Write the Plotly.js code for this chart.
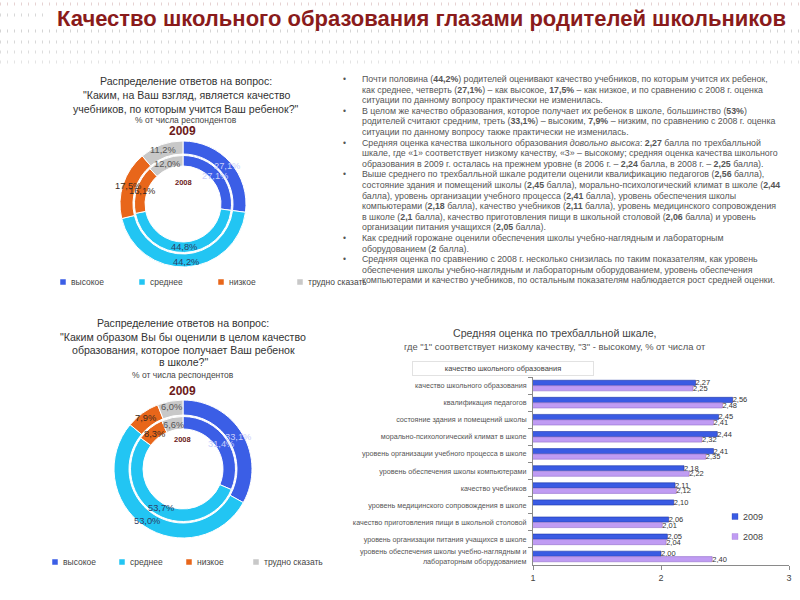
<!DOCTYPE html>
<html><head><meta charset="utf-8">
<script src="https://cdn.plot.ly/plotly-3.0.1.min.js"></script>
<style>html,body{margin:0;padding:0;background:#fff}#chart{width:800px;height:600px}</style>
</head><body><div id="chart"></div>
<script>
// ---------- data ----------
const answerLabels = ['высокое', 'среднее', 'низкое', 'трудно сказать'];
const booksShare2009 = [27.1, 44.2, 17.5, 11.2];
const booksShare2008 = [27.1, 44.8, 16.1, 12.0];
const eduShare2009 = [33.1, 53.0, 7.9, 6.0];
const eduShare2008 = [31.4, 53.7, 8.3, 6.6];

const indicatorLabels = [
  'качество школьного образования',
  'квалификация педагогов',
  'состояние здания и помещений школы',
  'морально-психологический климат в школе',
  'уровень организации учебного процесса в школе',
  'уровень обеспечения школы компьютерами',
  'качество учебников',
  'уровень медицинского сопровождения в школе',
  'качество приготовления пищи в школьной столовой',
  'уровень организации питания учащихся в школе',
  'уровень обеспечения школы учебно-наглядным и<br>лабораторным оборудованием'
];
const score2009 = [2.27, 2.56, 2.45, 2.44, 2.41, 2.18, 2.11, 2.10, 2.06, 2.05, 2.00];
const score2008 = [2.25, 2.48, 2.41, 2.32, 2.35, 2.22, 2.12, null, 2.01, 2.04, 2.40];
const scoreTicks = [1, 2, 3];
const yearLabels = ['2009', '2008'];

// ---------- helpers ----------
const W = 800, H = 600;
const px = v => v / W;
const py = v => 1 - v / H;
const comma = (v, d) => v.toFixed(d).replace('.', ',');
const sliceColors = ['#3B5EE6', '#22C5F3', '#E8661A', '#C8C8C8'];
const sliceTextColors = ['#C9D0FA', '#2E3F66', '#3A2A20', '#555555'];
const FONT = 'Arial, "Liberation Sans", sans-serif';
// second donut needs its own legend entries (pie legend items are keyed by label)
const answerLabels2 = answerLabels.map(s => s + ' ');

function ring(labels, values, cx, cy, r, hole, legendId, show) {
  return {
    type: 'pie', labels: labels, values: values, sort: false,
    direction: 'clockwise', rotation: 0, hole: hole,
    marker: {colors: sliceColors, line: {color: '#ffffff', width: 1}},
    textinfo: 'none', hoverinfo: 'label+value',
    domain: {x: [px(cx - r), px(cx + r)], y: [py(cy + r), py(cy - r)]},
    showlegend: show, legend: legendId
  };
}
function sliceLabels(values, cx, cy, r, size) {
  const total = values.reduce((a, b) => a + b, 0);
  let cum = 0;
  return values.map((v, i) => {
    const a = (cum + v / 2) / total * 2 * Math.PI; cum += v;
    return {xref: 'paper', yref: 'paper', x: px(cx + r * Math.sin(a)), y: py(cy - r * Math.cos(a)),
      text: comma(v, 1) + '%', showarrow: false, xanchor: 'center', yanchor: 'middle',
      font: {size: size, color: sliceTextColors[i], family: FONT}};
  });
}
function txt(text, x, y, size, color, extra) {
  return Object.assign({xref: 'paper', yref: 'paper', x: px(x), y: py(y), text: text, showarrow: false,
    xanchor: 'center', yanchor: 'middle', font: {size: size, color: color, family: FONT}}, extra || {});
}

// ---------- donut geometry ----------
const d1 = {cx: 183, cy: 204, r: 63, sep: 50, hole: 38};
const d2 = {cx: 183, cy: 469, r: 69, sep: 54, hole: 40};

const traces = [
  ring(answerLabels, booksShare2009, d1.cx, d1.cy, d1.r, d1.sep / d1.r, 'legend', true),
  ring(answerLabels, booksShare2008, d1.cx, d1.cy, d1.sep - 1.5, d1.hole / (d1.sep - 1.5), 'legend', false),
  ring(answerLabels2, eduShare2009, d2.cx, d2.cy, d2.r, d2.sep / d2.r, 'legend2', true),
  ring(answerLabels2, eduShare2008, d2.cx, d2.cy, d2.sep - 1.5, d2.hole / (d2.sep - 1.5), 'legend2', false),
  {type: 'bar', orientation: 'h', name: yearLabels[0], y: indicatorLabels, x: score2009,
   marker: {color: '#3A5BE3', line: {color: '#1D35A8', width: 0.6}},
   text: score2009.map(v => comma(v, 2)), textposition: 'outside', cliponaxis: false, constraintext: 'none',
   textfont: {size: 7.5, color: '#333', family: FONT}, xaxis: 'x', yaxis: 'y',
   legend: 'legend3', legendgroup: 'a'},
  {type: 'bar', orientation: 'h', name: yearLabels[1], y: indicatorLabels, x: score2008,
   marker: {color: '#C09CF3', line: {color: '#9470CC', width: 0.6}},
   text: score2008.map(v => v == null ? '' : comma(v, 2)), textposition: 'outside', cliponaxis: false,
   constraintext: 'none',
   textfont: {size: 7.5, color: '#333', family: FONT}, xaxis: 'x', yaxis: 'y',
   legend: 'legend3', legendgroup: 'b'}
];

// ---------- annotations ----------
const ann = [];
ann.push(txt('<b>Качество школьного образования глазами родителей школьников</b>', 55, 18, 22, '#8A1B1B', {xanchor: 'left'}));

// donut 1 titles
ann.push(txt('Распределение ответов на вопрос:', 186, 81, 10.6, '#333'));
ann.push(txt('"Каким, на Ваш взгляд, является качество', 186, 95, 10.6, '#333'));
ann.push(txt('учебников, по которым учится Ваш ребенок?"', 186, 108.5, 10.6, '#333'));
ann.push(txt('% от числа респондентов', 186, 120, 8.5, '#444'));
ann.push(txt('<b>2009</b>', 182, 131, 12, '#6B1A1A'));
ann.push(txt('<b>2008</b>', 183, 182, 7.5, '#6B1A1A'));
sliceLabels(booksShare2009, d1.cx, d1.cy, (d1.r + d1.sep) / 2 + 1.5, 9.3).forEach(a => ann.push(a));
sliceLabels(booksShare2008, d1.cx, d1.cy, (d1.sep + d1.hole) / 2 - 1, 9.3).forEach(a => ann.push(a));

// donut 2 titles
ann.push(txt('Распределение ответов на вопрос:', 183, 323, 10.6, '#333'));
ann.push(txt('"Каким образом Вы бы оценили в целом качество', 183, 336.5, 10.6, '#333'));
ann.push(txt('образования, которое получает Ваш ребенок', 183, 350, 10.6, '#333'));
ann.push(txt('в школе?"', 183, 362, 10.6, '#333'));
ann.push(txt('% от числа респондентов', 183, 374.5, 8.5, '#444'));
ann.push(txt('<b>2009</b>', 182, 391, 12, '#6B1A1A'));
ann.push(txt('<b>2008</b>', 182, 440, 7.5, '#6B1A1A'));
sliceLabels(eduShare2009, d2.cx, d2.cy, (d2.r + d2.sep) / 2 + 2, 9.3).forEach(a => ann.push(a));
sliceLabels(eduShare2008, d2.cx, d2.cy, (d2.sep + d2.hole) / 2 - 2, 9.3).forEach(a => ann.push(a));

// right text block
const bulletLines = [
  ['Почти половина (<b>44,2%</b>) родителей оценивают качество учебников, по которым учится их ребенок,',
   'как среднее, четверть (<b>27,1%</b>) – как высокое, <b>17,5%</b> – как низкое, и по сравнению с 2008 г. оценка',
   'ситуации по данному вопросу практически не изменилась.'],
  ['В целом же качество образования, которое получает их ребенок в школе, большинство (<b>53%</b>)',
   'родителей считают средним, треть (<b>33,1%</b>) – высоким, <b>7,9%</b> – низким, по сравнению с 2008 г. оценка',
   'ситуации по данному вопросу также практически не изменилась.'],
  ['Средняя оценка качества школьного образования <i>довольно высока</i>: <b>2,27</b> балла по трехбалльной',
   'шкале, где «1» соответствует низкому качеству, «3» – высокому; средняя оценка качества школьного',
   'образования в 2009 г. осталась на прежнем уровне (в 2006 г. – <b>2,24</b> балла, в 2008 г. – <b>2,25</b> балла).'],
  ['Выше среднего по трехбалльной шкале родители оценили квалификацию педагогов (<b>2,56</b> балла),',
   'состояние здания и помещений школы (<b>2,45</b> балла), морально-психологический климат в школе (<b>2,44</b>',
   'балла), уровень организации учебного процесса (<b>2,41</b> балла), уровень обеспечения школы',
   'компьютерами (<b>2,18</b> балла), качество учебников (<b>2,11</b> балла), уровень медицинского сопровождения',
   'в школе (<b>2,1</b> балла), качество приготовления пищи в школьной столовой (<b>2,06</b> балла) и уровень',
   'организации питания учащихся (<b>2,05</b> балла).'],
  ['Как средний горожане оценили обеспечения школы учебно-наглядным и лабораторным',
   'оборудованием (<b>2</b> балла).'],
  ['Средняя оценка по сравнению с 2008 г. несколько снизилась по таким показателям, как уровень',
   'обеспечения школы учебно-наглядным и лабораторным оборудованием, уровень обеспечения',
   'компьютерами и качество учебников, по остальным показателям наблюдается рост средней оценки.']
];
let ly = 79;
bulletLines.forEach(par => {
  ann.push(txt('•', 344, ly, 8.5, '#555'));
  par.forEach(line => {
    ann.push(txt(line, 360, ly, 8.8, '#555', {xanchor: 'left'}));
    ly += 10.6;
  });
});

// bar chart titles
ann.push(txt('Средняя оценка по трехбалльной шкале,', 555, 333, 10.6, '#444'));
ann.push(txt('где "1" соответствует низкому качеству, "3" - высокому, % от числа от', 555, 346, 9.4, '#555'));
ann.push(txt('качество школьного образования', 503, 368, 7.5, '#444',
  {bgcolor: '#ffffff', bordercolor: '#e2e2e2', borderwidth: 1, width: 178, height: 11}));

// ---------- dotted background rows ----------
const shapes = [];
[[4, 0, 1, '#e6d2d2'], [15, 0, 0.06, '#d8d8d8'], [31, 0, 1, '#d4d4d4'], [42, 0, 1, '#d8d8d8'],
 [52, 0, 1, '#dddddd'], [62, 0, 1, '#e4e4e4']].forEach(r => {
  shapes.push({type: 'line', xref: 'paper', yref: 'paper', x0: r[1], x1: r[2], y0: py(r[0]), y1: py(r[0]),
    line: {color: r[3], width: 3, dash: '1px,6px'}, layer: 'below'});
});

const legendFont = {size: 8.5, color: '#444'};
const layout = {
  width: W, height: H, margin: {l: 0, r: 0, t: 0, b: 0},
  paper_bgcolor: '#ffffff', plot_bgcolor: 'rgba(0,0,0,0)',
  font: {family: FONT, color: '#444'},
  barmode: 'group', bargap: 0.36, bargroupgap: 0.06,
  xaxis: {domain: [px(533), px(789)], range: [1, 3], tickvals: scoreTicks, ticktext: scoreTicks.map(String),
    showgrid: false, zeroline: false, showline: true, linecolor: '#8a8a8a', ticks: 'outside', ticklen: 4,
    tickcolor: '#8a8a8a', tickfont: {size: 9, color: '#444'}, anchor: 'y', fixedrange: true},
  yaxis: {domain: [py(565), py(377)], type: 'category', autorange: 'reversed', showgrid: false,
    showline: true, linecolor: '#8a8a8a', ticks: 'outside', ticklen: 4, tickcolor: '#8a8a8a',
    tickson: 'boundaries', tickfont: {size: 7.2, color: '#555'}, anchor: 'x', ticklabelstandoff: 4},
  legend: {orientation: 'h', x: px(31), xanchor: 'left', y: py(282), yanchor: 'middle',
    entrywidth: 34, font: legendFont, bgcolor: 'rgba(0,0,0,0)', itemwidth: 30},
  legend2: {orientation: 'h', x: px(23), xanchor: 'left', y: py(562), yanchor: 'middle',
    entrywidth: 22, font: legendFont, bgcolor: 'rgba(0,0,0,0)', itemwidth: 30},
  legend3: {orientation: 'v', x: px(703), xanchor: 'left', y: py(502), yanchor: 'top',
    tracegroupgap: 1, font: {size: 9, color: '#444'}, bgcolor: 'rgba(0,0,0,0)', itemwidth: 30},
  annotations: ann, shapes: shapes, showlegend: true
};

Plotly.newPlot('chart', traces, layout, {displayModeBar: false, staticPlot: true}).then(gd => {
  // small square legend markers placed close to their text
  gd.querySelectorAll('.legendpoints path').forEach(p => {
    p.setAttribute('transform', 'translate(32,0) scale(0.5)');
  });
  // let the last legend entry's text run past the legend box
  gd.querySelectorAll('.scrollbox, .legend, .legend2, .legend3').forEach(el => {
    el.removeAttribute('clip-path');
    el.style.removeProperty('clip-path');
  });
  gd.querySelectorAll('[class^="legend"] [clip-path]').forEach(el => el.removeAttribute('clip-path'));
});
</script></body></html>
